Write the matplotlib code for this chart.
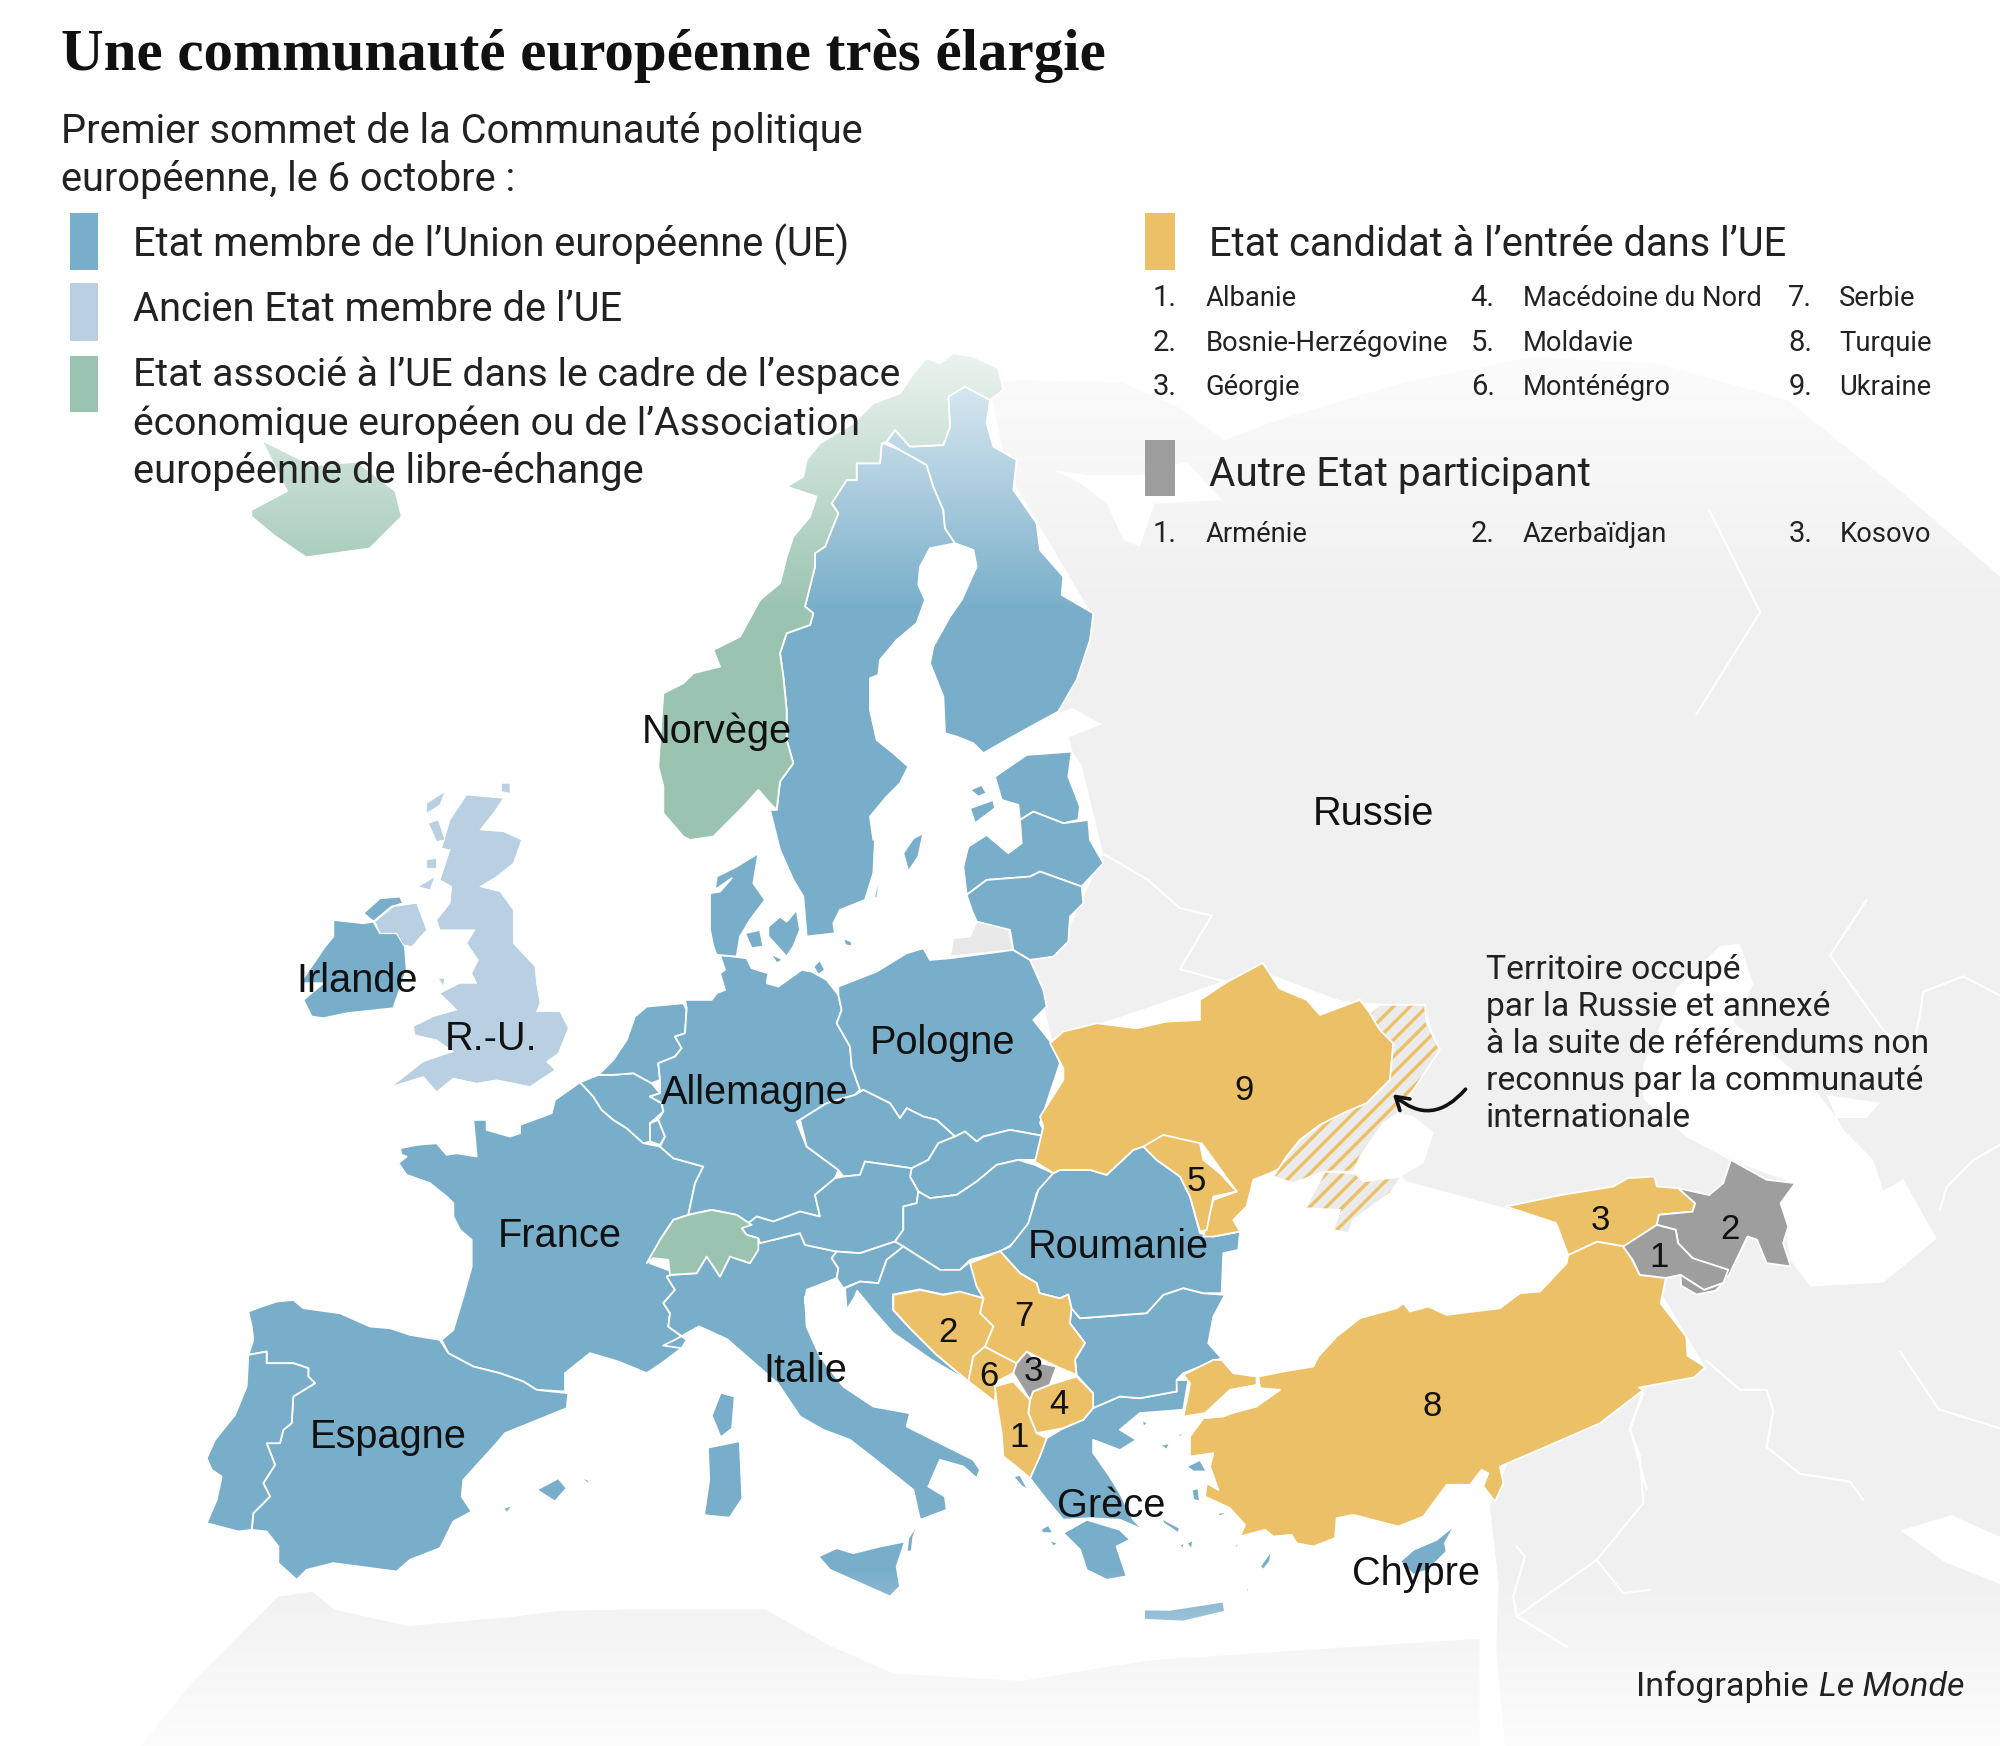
import numpy as np
import matplotlib
matplotlib.use('Agg')
import matplotlib.pyplot as plt
from matplotlib.patches import Polygon, Rectangle

# contours releves sur des agrandissements x3 de l'image, ramenes au repere 1568 x 1369
K = 2000 / 1568


def c(o, pts, ech=3.0, echy=None):
    echy = echy or ech
    return [((o[0] + x / ech) / K, (o[1] + y / echy) / K) for x, y in pts]


Z1 = (560, 920)
Z2 = (280, 770)
Z3 = (640, 340)
Z4 = (190, 1100)
Z5 = (680, 740)
Z6 = (1000, 1000)
Z7 = (1150, 1250)
Z8 = (800, 1200)

# terres grises
terres = [(775,300),(800,298),(880,300),(925,320),(960,345),(1000,330),(1100,300),(1200,280),(1300,285),(1402,314),(1490,385),(1568,452),
          (1568,1369),(1180,1369),(1173,1294),(1175,1241),(1168,1181),(1185,1140),(1230,1112),(1285,1088),(1337,1072),(1300,1010),(1278,975),
          (1229,984),(1220,959),(1176,946),(1124,932),(1102,926),(1099,922),(1116,912),(1124,888),(1108,875),(1096,873),(1128,825),(1117,789),(1052,785),
          (985,760),(900,790),(825,815),(815,775),(790,745),(835,735),(865,670),(848,600),(841,590),(838,578),(864,568),(841,555),(830,559),(858,485),(790,370)]
afrique = [(110,1369),(150,1320),(190,1280),(218,1252),(245,1248),(262,1262),(320,1275),(400,1268),(439,1263),(500,1262),(600,1262),(650,1290),(700,1312),(800,1318),(900,1302),
           (1050,1292),(1160,1285),(1160,1369)]
caspienne = [((1500 + x / 3) / K, (900 + y / 2.613) / K) for x, y in
             [(660,120),(720,115),(760,220),(700,320),(930,480),(1010,570),(1030,600),(1120,680),(1150,760),(1210,730),(1310,885),(1150,1000),(930,1010),(870,940),
              (845,790),(880,740),(690,680),(560,620),(430,520),(430,430),(530,230)]]
lagune = [((1500 + x / 3) / K, (900 + y / 2.613) / K) for x, y in [(980,510),(1140,530),(1100,570),(1010,570)]]
mer_blanche = c(Z3, [(1240,390),(1340,405),(1500,405)]) + [(930,362),(958,392),(905,395)] + c(Z3, [(1500,620),(1450,600),(1400,490),(1320,430)])
golfe = [(1490,1200),(1530,1188),(1568,1205),(1568,1242),(1525,1225)]

# Etats membres
france = c(Z1, [(60,487)]) + c(Z4, [(1095,0),(1085,40),(990,75),(990,100),(960,110),(890,90),(890,60),(850,60),(860,170),(800,160),(770,165),(740,130),(680,135),(630,145),(635,165),
            (650,170),(625,190),(650,225),(720,250),(770,290),(790,310),(790,350),(810,390),(845,420),(845,500),(820,590),(790,690),(755,720),(775,760),(850,800),(930,820),(1000,845),
            (1040,870),(1125,875),(1125,820),(1200,760),(1285,785),(1370,820),(1415,790),(1475,745),(1490,720),(1435,680),(1440,640),(1420,610),(1455,570),(1430,530),(1460,520)]) \
         + c(Z1, [(270,1030),(300,960),(340,900),(385,885),(405,790),(430,740),(340,715),(300,680),(250,670),(200,625),(160,600),(125,570),(100,530)])
corse = [(565,1092),(576,1095),(574,1120),(565,1127),(558,1110)]
sardaigne = [(555,1135),(580,1130),(582,1175),(572,1190),(552,1188),(556,1160)]
espagne = c(Z4, [(750,720),(660,705),(600,685),(540,680),(450,640),(340,625),(310,600),(260,605),(215,620),(175,635),(185,680),(190,720),(175,765),(230,755),(230,790),(310,790),(355,805),
             (355,830),(375,850),(310,890),(305,970),(280,990),(270,1030),(230,1030),(255,1095),(220,1150),(240,1190),(190,1240),(185,1290),(230,1295),(265,1340),(265,1390),(320,1440),
             (350,1410),(430,1390),(620,1415),(660,1380),(750,1345),(790,1265),(845,1235),(815,1190),(820,1140),(920,1030),(945,1000),(1130,925),(1135,880),(1040,870),(1000,845),(930,820),(850,800),(775,760)])
portugal = c(Z4, [(175,765),(230,755),(230,790),(310,790),(355,805),(355,830),(375,850),(310,890),(305,970),(280,990),(270,1030),(230,1030),(255,1095),(220,1150),(240,1190),(190,1240),
              (185,1290),(145,1295),(50,1270),(80,1200),(95,1130),(65,1110),(50,1075),(75,1020),(135,945),(170,860)])
majorque = c(Z4, [(1040,1170),(1105,1135),(1130,1165),(1095,1205)])
minorque = c(Z4, [(1165,1130),(1195,1140),(1200,1155)])
ibiza = c(Z4, [(940,1225),(970,1215),(950,1240)])
italie = c(Z1, [(330,1065),(410,1060),(440,1010),(480,1070),(510,1010),(570,1030),(595,960),(640,960),(720,940),(735,975),(830,995),(815,1015),(835,1045),(830,1075),(740,1110),(735,1150)]) \
         + c(Z8, [(15,290),(20,380),(60,470),(130,560),(220,620),(330,640),(320,680),(440,740),(520,780),(540,810),(530,835),(490,800),(420,780),(385,860),(435,890),(440,930),(360,960),
                  (340,1010),(335,1055),(320,1055),(325,1015),(360,960),(340,870),(240,790),(150,720),(70,690),(0,650)]) \
         + [(610,1085),(570,1050),(548,1040),(530,1050),(520,1055)] + c(Z4, [(1475,745),(1490,720),(1435,680),(1440,640),(1420,610),(1455,570),(1430,530),(1460,520)])
sicile = c(Z8, [(55,1070),(110,1045),(160,1060),(240,1040),(315,1025),(290,1100),(300,1160),(270,1190),(180,1150),(90,1110)])
irlande = c(Z2, [(160,450),(250,460),(280,455),(250,430),(300,385),(360,380),(370,400),(335,410),(280,455),(300,490),(350,490),(375,530),(380,600),(340,715),(200,730),(130,745),(95,740),
             (70,690),(130,640),(60,640),(135,530),(160,500)])
pays_bas = c(Z1, [(225,290),(260,260),(370,250),(380,270),(375,340),(345,350),(365,385),(345,410),(295,430),(300,480),(275,490),(220,460),(160,465),(115,465),(160,420),(200,360)])
belgique = c(Z1, [(60,487),(115,465),(160,465),(220,460),(275,490),(300,520),(270,530),(305,550),(310,575),(270,610),(270,665),(250,670),(200,625),(160,600),(125,570),(100,530)])
luxembourg = c(Z1, [(270,610),(295,600),(315,650),(300,675),(270,665)])
allemagne = c(Z1, [(380,265),(375,240),(455,240),(470,220),(495,210),(480,160),(495,150),(480,105),(560,115),(575,145),(625,160),(620,190),(655,200),(725,150),(755,155),(800,180),(835,225),
               (845,270),(830,310),(870,380),(875,440),(900,510),(885,525),(800,550),(720,600),(710,605),(740,680),(835,750),(825,775),(765,825),(780,890),(720,875),(640,905),(590,890),(575,915),
               (530,885),(455,870),(385,885),(405,790),(430,740),(340,715),(300,680),(315,650),(295,600),(310,575),(305,550),(270,530),(300,520),(300,480),(295,430),(345,410),(365,385),(345,350),(375,340)])
pologne = c(Z1, [(835,200),(950,155),(1040,100),(1090,85),(1110,120),(1170,115),(1360,90),(1410,120),(1450,210),(1460,260),(1420,300),(1475,370),(1500,430),(1440,610),(1460,650),(1350,630),
             (1270,650),(1250,665),(1215,635),(1185,650),(1130,600),(1090,590),(1040,565),(1020,595),(990,550),(910,510),(885,525),(900,510),(875,440),(870,380),(830,310),(845,270),(835,225)])
tchequie = c(Z1, [(720,600),(800,550),(885,525),(910,510),(990,550),(1020,595),(1040,565),(1090,590),(1130,600),(1185,650),(1135,670),(1105,720),(1055,745),(915,725),(900,765),(850,770),(835,750),(740,680)])
slovaquie = c(Z1, [(1055,745),(1105,720),(1135,670),(1185,650),(1215,635),(1250,665),(1270,650),(1350,630),(1460,650),(1425,720),(1375,720),(1310,735),(1250,785),(1190,825),(1110,835),(1075,815),(1050,770)])
autriche = c(Z1, [(590,890),(640,905),(720,875),(780,890),(765,825),(825,775),(850,770),(900,765),(915,725),(1055,745),(1050,770),(1075,815),(1070,850),(1030,860),(1030,930),(1005,965),(900,1000),(830,995),
              (735,975),(720,940),(640,960),(600,970),(595,955),(560,945),(545,925)])
hongrie = c(Z1, [(1075,815),(1110,835),(1190,825),(1250,785),(1310,735),(1375,720),(1425,735),(1480,760),(1430,820),(1400,930),(1380,960),(1320,995),(1230,1020),(1200,1050),(1140,1050),(1030,980),(1005,965),(1030,930),(1030,860),(1070,850)])
slovenie = c(Z1, [(830,995),(900,1000),(1005,965),(1030,980),(980,1020),(955,1090),(900,1085),(850,1105),(830,1075),(835,1045),(815,1015)])
croatie = c(Z1, [(855,1105),(900,1085),(955,1090),(980,1020),(1030,980),(1140,1050),(1200,1050),(1230,1025)]) \
          + [(771,1018),(752,1013),(739,1015),(721,1011),(700,1015),(700,1027),(713,1041),(734,1062),(759,1083),(730,1066),(700,1045),(685,1028),(672,1012)] \
          + c(Z1, [(885,1130),(860,1170)])
danemark = c(Z5, [(100,620),(90,570),(90,460),(120,455),(155,415),(105,450),(110,410),(170,380),(235,340),(220,430),(255,480),(210,540),(180,590),(170,650),(110,645)])
fionie = c(Z5, [(195,580),(240,570),(250,620),(215,625)])
seeland = c(Z5, [(265,560),(300,530),(320,545),(350,510),(360,570),(340,620),(320,650),(265,590)])
bornholm = c(Z5, [(490,595),(515,605),(515,620),(495,615)])
lolland = c(Z5, [(270,640),(310,660),(290,670)])
rugen = c(Z5, [(400,680),(420,660),(435,690),(415,705)])
suede = c(Z3, [(730,310),(780,330),(860,375),(880,440),(910,510),(915,565),(945,610),(870,625),(840,680),(835,735),(855,780),(830,850),(770,900),(720,960),(715,1005),(690,1015),(690,1110),(710,1200),(760,1240),
           (805,1280),(780,1330),(740,1370),(690,1430),(700,1500)]) \
        + c(Z5, [(580,245),(585,300),(580,400),(555,480),(480,510),(460,550),(465,580),(380,590),(370,470),(340,420),(300,330),(270,210),(290,210),(300,125),(340,70),(320,0)]) \
        + c(Z3, [(440,1110),(430,1010),(420,940),(440,880),(510,855),(520,820),(495,800),(525,680),(525,640),(555,620),(595,520),(575,490),(620,420),(650,420),(650,370),(720,370),(725,310)])
finlande = c(Z3, [(740,305),(765,270),(810,320),(910,315),(930,260),(925,170),(975,140),(1050,180),(1040,250),(1060,320),(1130,360),(1120,450),(1190,550),(1200,630),(1270,710),(1265,765),(1360,820),(1350,900),
              (1310,1020),(1255,1115),(1190,1150),(1100,1200),(1030,1240),(1000,1210),(950,1190),(915,1180),(910,1070),(870,970),(880,920),(930,830),(965,780),(1010,680),(1000,630),(945,610),(915,565),
              (910,510),(880,440),(860,375),(780,330)])
estonie = c(Z5, [(945,110),(1040,45),(1175,35),(1165,110),(1200,200),(1195,240),(1150,250),(1060,215),(1020,240),(1015,195),(965,180)])
lettonie = c(Z5, [(865,320),(920,285),(985,340),(1025,310),(1020,240),(1060,215),(1150,250),(1225,240),(1230,300),(1270,370),(1205,440),(1080,395),(1050,410),(920,420),(860,465),(850,380)])
lituanie = c(Z5, [(860,465),(920,420),(1050,410),(1080,395),(1205,440),(1210,490),(1170,530),(1165,605),(1120,650),(1050,660),(1000,630),(990,570),(890,545),(875,510)])
saaremaa = c(Z5, [(870,205),(940,180),(945,205),(885,250)])
hiiumaa = c(Z5, [(870,150),(905,135),(920,160),(895,170)])
gotland = c(Z5, [(670,340),(700,295),(730,280),(715,350),(685,395)])
oland = c(Z5, [(610,365),(590,480),(583,470)])
grece = [(820.6,1127.6),(833.6,1119.8),(849.3,1113.2),(857,1104),(878,1095),(893.7,1096.3),(922.5,1091),(921.2,1082),(931.6,1082),(927.7,1105.4),(893.7,1108),(878,1121),
         (891,1129),(878,1137),(870.2,1134),(857,1129),(857,1139),(870,1157.7),(878,1170.7),(888.5,1191.6),(896.3,1199.5),(878,1191.6),(854.5,1190.4),(833.6,1191.6),(820.6,1176),(807.5,1159)]
peloponnese = [(833.6,1202),(852,1191.6),(878,1199.5),(886,1207.3),(875.4,1212.5),(883.3,1236),(867.6,1238.7),(852,1231),(846.7,1215)]
crete = [(897,1262)] + c(Z7, [(60,1080),(220,1055),(225,1085),(100,1115)]) + [(897,1270)]
bulgarie = [(840,1025.7),(846.7,1033.6),(899,1029.6),(912,1015.3),(927.7,1010),(943.4,1014),(960.4,1015.3),(951.3,1032.3),(947.3,1053.2),(957.8,1065),(927.7,1076.7),(922.5,1082),
            (922.5,1091),(893.7,1096.3),(878,1095),(857,1104),(857,1092.4),(844,1078),(842.8,1066),(850.6,1053),(838.8,1037.5)]
roumanie = c(Z6, [(160,520),(180,510),(270,510),(320,525),(400,450),(430,440),(470,480),(540,530),(570,590),(600,700),(640,710),(720,695),(715,750),(670,760),(665,880)]) \
           + [(943.4,1014),(927.7,1010),(912,1015.3),(899,1029.6),(846.7,1033.6),(840,1025.7),(837.5,1015),(831,1018),(815,1014),(812.7,1006),(799.7,998.3),(784,981)] \
           + c(Z6, [(30,740),(85,670),(115,570)])
chypre = c(Z7, [(790,900),(860,870),(915,825),(885,880),(890,905),(835,960),(790,975),(750,935)])
lesbos = c(Z7, [(110,650),(150,630),(170,665),(130,665)])
chios = c(Z7, [(125,720),(145,715),(150,755),(130,750)])
samos = c(Z7, [(200,790),(240,785),(210,800)])
rhodes = c(Z7, [(330,950),(365,900),(360,935),(340,960)])
limnos = c(Z7, [(30,585),(60,580),(50,600)])
naxos = c(Z7, [(110,880),(130,870),(125,900)])
kos = c(Z7, [(250,890),(280,870),(260,893)])
karpathos = c(Z7, [(285,990),(298,1025),(290,1025)])
icarie = c(Z7, [(40,800),(90,835),(60,830)])
paros = c(Z7, [(88,885),(103,880),(100,900)])
eubee = c(Z8, [(1085,955),(1140,985),(1135,1000),(1090,970)])
corfou = c(Z8, [(640,830),(660,825),(685,870),(665,860)])
cephalonie = c(Z8, [(720,990),(745,975),(760,1000),(730,1000)])
zante = c(Z8, [(745,1020),(775,1030),(760,1040)])
thasos = c(Z8, [(1025,660),(1045,670),(1030,680)])

# ancien membre
grande_bretagne = c(Z2, [(560,75),(670,85),(640,130),(600,180),(670,185),(725,210),(700,280),(650,320),(600,350),(660,365),(700,420),(700,520),(765,590),(770,640),(780,700),(770,725),(840,725),(865,775),(835,850),(800,875),
                     (825,900),(750,950),(650,930),(590,940),(520,925),(470,965),(430,920),(335,950),(430,875),(520,845),(470,810),(405,795),(400,770),(460,740),(530,720),(480,670),(540,640),(590,640),(575,610),
                     (595,570),(560,520),(585,480),(480,480),(470,450),(510,400),(515,350),(480,330),(510,240),(485,235),(510,150)])
irlande_nord = c(Z2, [(285,455),(340,410),(410,400),(440,480),(395,530),(370,525),(350,490),(300,490)])
lewis = c(Z2, [(440,100),(495,65),(480,105),(440,130)])
skye = c(Z2, [(445,160),(475,150),(495,210),(470,215)])
islay = c(Z2, [(440,270),(470,265),(470,295),(440,295)])
kintyre = c(Z2, [(415,350),(465,320),(450,360)])
orcades = c(Z2, [(665,40),(690,40),(690,70),(665,65)])
anglesey = c(Z2, [(475,625),(495,625),(490,650)])

# Etats associes
norvege = c(Z3, [(1075,85),(1000,50),(940,40),(900,70),(860,55),(820,100),(780,160),(700,190),(640,250),(590,280),(540,310),(500,360),(490,410),(440,440),(530,470),(510,530),(460,590),(440,650),(420,730),(360,780),(300,890),
             (220,930),(240,980),(160,1000),(130,1030),(70,1060),(65,1130),(55,1280),(70,1340),(70,1420),(130,1490)]) \
          + c(Z5, [(30,300),(100,290),(190,200),(235,150),(270,190),(290,210),(300,125),(340,70),(320,0)]) \
          + c(Z3, [(440,1110),(430,1010),(420,940),(440,880),(510,855),(520,820),(495,800),(525,680),(525,640),(555,620),(595,520),(575,490),(620,420),(650,420),(650,370),(720,370),(725,310),(740,305),(765,270),(810,320),(910,315),
                   (930,260),(925,170),(975,140),(1050,180),(1090,150)])
islande = [(197,400),(225,385),(205,345),(245,365),(280,362),(310,385),(315,405),(290,430),(240,437),(215,420),(197,405)]
suisse = c(Z1, [(260,1030),(300,960),(340,900),(385,885),(455,870),(530,885),(575,915),(545,925),(560,945),(595,955),(595,990),(570,1030),(510,1010),(480,1070),(440,1010),(410,1060),(330,1065),(325,1020),(280,1015)])

# Etats candidats
ukraine = c(Z6, [(150,130),(190,95),(290,70),(410,85),(500,65),(600,60),(600,0)]) + [(962,770),(990,755),(1003,775)] \
          + c(Z6, [(920,0),(960,45),(1080,0),(1110,40),(1140,90),(1180,130),(1170,240),(1100,310),(1030,340),(960,375),(900,420),(860,470),(850,500),(810,520),(760,540),(740,620),(700,660),(720,695),(640,710),(610,710),(640,600),(710,575),
                   (605,430),(430,440),(400,450),(320,525),(270,510),(180,510),(160,520),(105,485),(130,380),(120,350),(190,240),(190,205)])
moldavie = c(Z6, [(430,440),(490,405),(600,430),(610,480),(660,520),(710,575),(640,590),(620,690),(600,695),(570,590),(540,530),(470,480)])
serbie = [(760.5,990.4),(784,981),(799.7,998.3),(812.7,1006),(815,1014),(831,1018),(837.5,1015),(840,1025.7),(838.8,1037.5),(850.6,1053),(842.8,1066),(844,1078),(828.4,1071.5),(805,1059.7),
          (797,1069),(772,1056),(778.8,1040),(768.3,1029.6),(771,1018),(765.7,1008.7)]
bosnie = [(700.4,1015.3),(721.3,1011.4),(739.6,1015.3),(752.6,1012.7),(771,1018),(768.3,1029.6),(778.8,1040),(772,1056),(763,1063.6),(760.5,1076.7),(759.2,1083),(734.3,1062.3),(713.4,1041.4),(700.4,1027)]
montenegro = [(772,1056),(797,1069),(794.4,1076.7),(781.4,1083.2),(780,1099),(759.2,1083),(760.5,1076.7),(763,1063.6)]
macedoine = [(810,1091),(823,1085.8),(844,1079.3),(857,1092.4),(857,1104),(849.3,1113.2),(833.6,1119.8),(812.7,1123.7),(806.2,1108),(807.5,1097.6)]
albanie = [(780,1087),(794.4,1083.2),(807.5,1097.6),(806.2,1108),(812.7,1123.7),(820.6,1127.6),(815.3,1142),(807.5,1159),(797,1150),(786.6,1142),(785.3,1123.7),(781.4,1100)]
thrace = c(Z7, [(100,375),(190,330),(215,330),(250,370),(320,380),(320,405),(240,420),(165,490),(100,500),(115,430),(120,400)])
turquie = c(Z7, [(325,380),(400,365),(490,350),(505,320),(560,260),(630,205),(740,175),(760,160),(780,185),(835,170),(890,195),(1050,175),(1110,130),(1170,125),(1250,40)]) \
          + [(1229.4,984),(1252,973.5),(1274,977),(1285.6,999.6),(1306,1002),(1302,1022),(1322,1048),(1323,1063),(1337,1072),(1328,1080),(1285,1088)] \
          + c(Z7, [(1480,420),(1350,520),(1190,590),(1050,650),(1060,700),(1035,755),(1000,710),(1015,670),(995,660),(960,705),(890,705),(820,800),(745,830),(610,795),(560,805),(555,865),(490,890),(440,880),(425,855),(370,860),(345,840),
                   (270,860),(285,825),(240,775),(165,740),(170,700),(205,720),(180,650),(190,610),(120,620),(120,560),(160,505),(220,500),(245,490),(320,470),(390,420),(330,415)])
imbros = c(Z7, [(75,560),(100,545),(95,560)])
georgie = [(1180.6,946),(1223.8,937),(1265,930.3),(1276,923.8),(1297,922.5),(1299,930.3),(1315.6,931.6),(1329,943.4),(1327,950),(1300.6,952.5),(1299,960.4),(1274.4,977.4),(1252,973.5),(1229.4,984),(1220,959)]

# autres participants
armenie = [(1299,960.4),(1313.8,964.3),(1315.6,974.7),(1327,986.5),(1355,995.6),(1351,1006),(1336,1011.4),(1317.5,999.6),(1306,1002),(1285.6,999.6),(1280,987.8),(1272.5,977.4)]
azerbaidjan = [(1315.6,931.6),(1340,937),(1351,927.7),(1357,909.4),(1385,925),(1407.5,927.7),(1396,943.4),(1402,961.7),(1398,974.7),(1404,993),(1385,990.4),(1377.5,972),(1370,969.5),(1355,1001),
               (1327,986.5),(1315.6,974.7),(1313.8,964.3),(1299,960.4),(1300.6,952.5),(1327,950),(1329,943.4)]
nakhitchevan = [(1317.5,999.6),(1336,1011.4),(1351,1006),(1345,1012),(1330,1015),(1318,1008)]
kosovo = [(805,1059.7),(815.3,1068.8),(828.4,1071.5),(823,1085.8),(810,1091),(807.5,1097.6),(794.4,1076.7),(797,1069)]

# territoires occupes
occupe_est = c(Z6, [(1110,40),(1140,15),(1275,15),(1280,70),(1320,150),(1240,270),(1195,340),(1150,370),(1080,470),(1060,520),(970,515),(880,550),(820,530),(860,470),(900,420),(960,375),(1030,340),(1100,310),(1170,240),(1180,130),(1140,90)])
crimee = c(Z6, [(975,515),(1060,515),(1090,545),(1205,530),(1170,580),(1115,620),(1060,660),(1045,700),(1000,690),(1020,630),(915,625)])
kaliningrad = c(Z5, [(810,650),(820,595),(870,590),(890,545),(985,565),(1000,630)])

# frontieres blanches sur les terres grises
P8 = lambda pts: [((1500 + x / 3) / K, (900 + y / 2.613) / K) for x, y in pts]
frontieres = [[(866,670),(900,690),(925,712),(950,718),(925,760),(962,770)],
              P8([(620,1205),(720,1280),(800,1280),(820,1335),(800,1430),(900,1500),(1050,1520),(1090,1568)]),
              P8([(430,1290),(390,1380),(440,1540)]),
              P8([(1100,0),(990,145),(1150,340),(1235,400)]),
              P8([(1500,250),(1390,200),(1270,240),(1260,300),(1235,400)]),
              P8([(1320,810),(1340,750),(1420,680),(1500,640)]),
              c(Z7, [(1480,420),(1440,540),(1470,620),(1480,760),(1340,930),(1100,1100)]),
              c(Z7, [(1340,930),(1420,1030),(1500,1020)]),
              c(Z7, [(1100,890),(1125,920),(1090,1040),(1100,1100),(1250,1190)]),
              [(1340,400),(1380,480),(1330,560)],
              [(1568,1120),(1520,1105),(1490,1060)]]

membres = [france, corse, sardaigne, espagne, portugal, majorque, minorque, ibiza, italie, sicile, irlande, belgique, pays_bas, luxembourg, allemagne, danemark, fionie, seeland,
           bornholm, lolland, rugen, pologne, tchequie, slovaquie, autriche, hongrie, slovenie, croatie, grece, peloponnese, crete, bulgarie, roumanie, suede, finlande,
           estonie, lettonie, lituanie, saaremaa, hiiumaa, gotland, oland, chypre, lesbos, chios, samos, rhodes, limnos, naxos, kos, karpathos, icarie, paros, eubee, corfou, cephalonie, zante, thasos]
anciens = [grande_bretagne, irlande_nord, lewis, skye, islay, kintyre, orcades, anglesey]
associes = [norvege, islande, suisse]
candidats = [ukraine, moldavie, serbie, bosnie, montenegro, macedoine, albanie, thrace, turquie, imbros, georgie]
autres = [azerbaidjan, armenie, nakhitchevan, kosovo]
occupes = [occupe_est, crimee]

noms_pays = ['Norvège', 'Russie', 'Irlande', 'R.-U.', 'Pologne', 'Allemagne', 'France', 'Roumanie', 'Italie', 'Espagne', 'Grèce', 'Chypre']
noms_x = [562, 1077, 280, 385, 739, 592, 439, 877, 631, 304, 871, 1110]
noms_y = [574, 638, 769, 815, 818, 857, 969, 978, 1075, 1127, 1181, 1234]

numeros = ['9', '5', '3', '2', '1', '2', '7', '3', '6', '4', '1', '8']
numeros_x = [975, 938, 1255, 1356, 1301, 743, 803, 810, 775, 830, 799, 1123]
numeros_y = [855, 926, 957, 964, 986, 1045, 1032, 1075, 1079, 1101, 1127, 1103]

candidats_noms = ['Albanie', 'Bosnie-Herzégovine', 'Géorgie', 'Macédoine du Nord', 'Moldavie', 'Monténégro', 'Serbie', 'Turquie', 'Ukraine']
autres_noms = ['Arménie', 'Azerbaïdjan', 'Kosovo']

C_MEMBRE = '#78aeca'
C_ANCIEN = '#b8d0e2'
C_ASSOCIE = '#9ac4b0'
C_CANDIDAT = '#ecc067'
C_AUTRE = '#9e9e9e'
C_TERRE = '#f0f0f0'

CORPS = ['Roboto', 'DejaVu Sans']
CARTE = ['Liberation Sans', 'DejaVu Sans']

plt.rcParams['hatch.linewidth'] = 2.4

fig = plt.figure(figsize=(20, 17.46), dpi=100)
ax = fig.add_axes([0, 0, 1, 1])
W, H = 1568, 1369


def dessine(liste, couleur, z=2, lw=1.6):
    for pts in liste:
        ax.add_patch(Polygon(pts, closed=True, facecolor=couleur, edgecolor='white', linewidth=lw, zorder=z, joinstyle='round'))


dessine([terres, afrique], C_TERRE, z=1, lw=0)
dessine([caspienne, lagune, mer_blanche, golfe], 'white', z=1.1, lw=0)
for f in frontieres:
    xs, ys = zip(*f)
    ax.plot(xs, ys, color='white', lw=1.6, zorder=1.2)
dessine([kaliningrad], '#e8e8e8', z=1.5, lw=1.2)

dessine(membres, C_MEMBRE, lw=1.3)
dessine(anciens, C_ANCIEN, lw=0.6)
dessine(associes, C_ASSOCIE, z=2.1, lw=1.3)
dessine(candidats, C_CANDIDAT, z=2.2, lw=1.3)
dessine(autres, C_AUTRE, z=2.3, lw=1.3)

for pts in occupes:
    ax.add_patch(Polygon(pts, closed=True, facecolor='#ebebeb', edgecolor=C_CANDIDAT, hatch='//', linewidth=0, zorder=2.4))
    ax.add_patch(Polygon(pts, closed=True, fill=False, edgecolor='white', linewidth=1.2, zorder=2.5))

# fondu vers le blanc en haut et en bas de la carte
haut = np.zeros((200, 1, 4))
haut[:, 0, :3] = 1
haut[:, 0, 3] = np.linspace(0.92, 0, 200)
ax.imshow(haut, extent=(0, W, 480, 250), aspect='auto', zorder=3)
bas = np.zeros((200, 1, 4))
bas[:, 0, :3] = 1
bas[:, 0, 3] = np.linspace(0, 0.85, 200)
ax.imshow(bas, extent=(0, W, 1369, 1230), aspect='auto', zorder=3)

ax.set_xlim(0, W)
ax.set_ylim(H, 0)
ax.axis('off')

# titre
ax.text(48, 55, 'Une communauté européenne très élargie', family=['Liberation Serif', 'DejaVu Serif'], weight='bold', fontsize=42.5, color='#111111', zorder=5)
ax.text(48, 112, 'Premier sommet de la Communauté politique', family=CORPS, fontsize=28.6, color='#222222', zorder=5)
ax.text(48, 150, 'européenne, le 6 octobre :', family=CORPS, fontsize=28.6, color='#222222', zorder=5)

# legende gauche
for y0, y1, col in [(167, 212, C_MEMBRE), (222, 267, C_ANCIEN), (279, 323, C_ASSOCIE)]:
    ax.add_patch(Rectangle((55, y0), 22, y1 - y0, facecolor=col, edgecolor='none', zorder=5))
for y, t, taille in [(201, 'Etat membre de l’Union européenne (UE)', 28.7), (252, 'Ancien Etat membre de l’UE', 28.7),
                     (303, 'Etat associé à l’UE dans le cadre de l’espace', 28.2), (341, 'économique européen ou de l’Association', 28.2),
                     (379, 'européenne de libre-échange', 28.7)]:
    ax.text(104, y, t, family=CORPS, fontsize=taille, color='#222222', zorder=5)

# legende droite
ax.add_patch(Rectangle((898, 167), 23, 45, facecolor=C_CANDIDAT, edgecolor='none', zorder=5))
ax.add_patch(Rectangle((898, 345), 23, 44, facecolor=C_AUTRE, edgecolor='none', zorder=5))
ax.text(948, 201, 'Etat candidat à l’entrée dans l’UE', family=CORPS, fontsize=28.7, color='#222222', zorder=5)
ax.text(948, 381, 'Autre Etat participant', family=CORPS, fontsize=29.2, color='#222222', zorder=5)

col_num = [904, 1153, 1402]
col_nom = [945, 1194, 1442]
lignes = [240, 275, 310]
for i, nom in enumerate(candidats_noms):
    k = i // 3
    ax.text(col_num[k], lignes[i % 3], f'{i + 1}.', family=CORPS, fontsize=21, color='#222222', zorder=5)
    ax.text(col_nom[k], lignes[i % 3], nom, family=CORPS, fontsize=19.7, color='#222222', zorder=5)
for i, nom in enumerate(autres_noms):
    ax.text(col_num[i], 425, f'{i + 1}.', family=CORPS, fontsize=21, color='#222222', zorder=5)
    ax.text(col_nom[i], 425, nom, family=CORPS, fontsize=19.7, color='#222222', zorder=5)

# noms sur la carte
for n, x, y in zip(noms_pays, noms_x, noms_y):
    ax.text(x, y, n, family=CARTE, fontsize=28.6, color='#111111', ha='center', va='center', zorder=5)
for n, x, y in zip(numeros, numeros_x, numeros_y):
    ax.text(x, y, n, family=CARTE, fontsize=25, color='#111111', ha='center', va='center', zorder=5)

# annotation territoire occupe
for y, t in zip([768, 797, 826, 855, 884], ['Territoire occupé', 'par la Russie et annexé', 'à la suite de référendums non',
                                            'reconnus par la communauté', 'internationale']):
    ax.text(1165, y, t, family=CORPS, fontsize=24.2, color='#222222', zorder=5)
ax.annotate('', xy=(1092, 858), xytext=(1149, 854), zorder=5,
            arrowprops=dict(arrowstyle='->,head_length=0.9,head_width=0.55', color='#111111', lw=2.6, shrinkA=0, shrinkB=0,
                            connectionstyle='arc3,rad=-0.5'))

ax.text(1418, 1330, 'Infographie', family=CORPS, fontsize=24.5, color='#222222', ha='right', zorder=5)
ax.text(1540, 1330, 'Le Monde', family=CORPS, style='italic', fontsize=24.5, color='#222222', ha='right', zorder=5)

fig.savefig('out.png', dpi=100)
